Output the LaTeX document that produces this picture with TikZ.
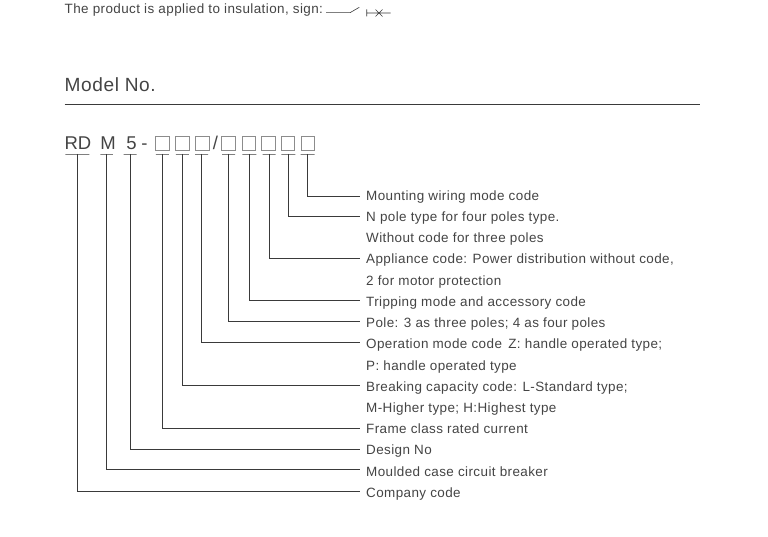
\documentclass[tikz,border=0pt]{standalone}
\usepackage{fontspec}
\setmainfont[LetterSpace=3]{Liberation Sans}
\newfontfamily\codefont{Liberation Sans}
\usetikzlibrary{calc}
\definecolor{ink}{HTML}{3A3A3A}
\definecolor{txt}{HTML}{444444}
\definecolor{sq}{HTML}{8C8C8C}
\tikzset{
 x=1pt,y=-1pt,
 lab/.style={anchor=west,inner xsep=6pt,inner ysep=0pt,text=txt,text height=12pt,text depth=3pt,font=\fontsize{13.45}{15}\selectfont},
 code/.style={anchor=base,inner sep=0pt,text=txt,font=\codefont\fontsize{18.5}{20}\selectfont},
 bar/.style={draw=ink,line width=.8pt,inner sep=0pt,minimum height=0pt},
 sqbox/.style={draw=sq,line width=.9pt,inner sep=0pt,minimum width=13.5pt,minimum height=13.5pt},
 conn/.style={draw=ink,line width=.9pt},
}
\begin{document}
\begin{tikzpicture}
\useasboundingbox (0,0) rectangle (768,537);
\node[anchor=base west,inner sep=0pt,text=txt,font=\fontsize{13.45}{15}\selectfont] (top) at (64.5,13.5) {The product is applied to insulation, sign:};
\coordinate (s1) at (326,12.7); \coordinate (s2) at (350,12.7); \coordinate (s3) at (359.3,7.3);
\draw[ink,line width=.6pt] (s1) -- (s2) -- (s3);
\coordinate (t1) at (366.7,13); \coordinate (t2) at (390.7,13);
\draw[ink,line width=.6pt] (t1) -- (t2) (366.7,9.5) -- (366.7,16.5) (375.5,9.5) -- (382.5,16.5) (382.5,9.5) -- (375.5,16.5);
\node[anchor=base west,inner sep=0pt,text=txt,font=\fontsize{19.1}{21}\selectfont] (model) at (64.5,92) {Model No.};
\coordinate (r1) at (64.5,104.5); \coordinate (r2) at (700,104.5);
\draw[ink,line width=.8pt] (r1) -- (r2);
% code
\node[code] (cRD) at (78,150) {RD};
\node[code] (cM) at (108,150) {M};
\node[code] (c5) at (131.5,150) {5};
\node[code] (cD) at (144.5,150) {-};
\node[code] (cS) at (215.5,150) {/};
\foreach \n/\c in {a/162.5,b/182.5,c/202.5,d/228.5,e/249,f/268.5,g/288,h/308}
  \node[sqbox] (q\n) at (\c,143.3) {};
% bars
\foreach \n/\c/\w in {RD/77.3/24,M/106.7/12.5,5/130/13,a/162.3/13,b/182.3/13,c/201.7/13,d/228.7/13,e/249.3/14,f/269/13,g/288.3/14,h/307.7/14}
  \node[bar,minimum width=\w pt] (b\n) at (\c,154) {};
% labels
\node[lab] (l1) at (360,196) {Mounting wiring mode code};
\node[lab] (l2) at (360,217) {N pole type for four poles type.};
\node[lab] (l3) at (360,238) {Without code for three poles};
\node[lab] (l4) at (360,259.5) {Appliance code: Power distribution without code,};
\node[lab] (l5) at (360,281) {2 for motor protection};
\node[lab] (l6) at (360,302) {Tripping mode and accessory code};
\node[lab] (l7) at (360,323) {Pole: 3 as three poles; 4 as four poles};
\node[lab] (l8) at (360,344) {Operation mode code\, Z: handle operated type;};
\node[lab] (l9) at (360,366) {P: handle operated type};
\node[lab] (l10) at (360,387) {Breaking capacity code: L-Standard type;};
\node[lab] (l11) at (360,408) {M-Higher type; H:Highest type};
\node[lab] (l12) at (360,429) {Frame class rated current};
\node[lab] (l13) at (360,450) {Design No};
\node[lab] (l14) at (360,472) {Moulded case circuit breaker};
\node[lab] (l15) at (360,493) {Company code};
% connectors: the leader meets each label slightly above its centre
\foreach \b/\l/\o in {h/l1/0,g/l2/0.5,f/l4/1.5,e/l6/2,d/l7/2,c/l8/2,b/l10/2,a/l12/1,5/l13/1,M/l14/2.5,RD/l15/2}
  \draw[conn] (b\b.center) |- ([yshift=\o pt]\l.west);
\end{tikzpicture}
\end{document}
